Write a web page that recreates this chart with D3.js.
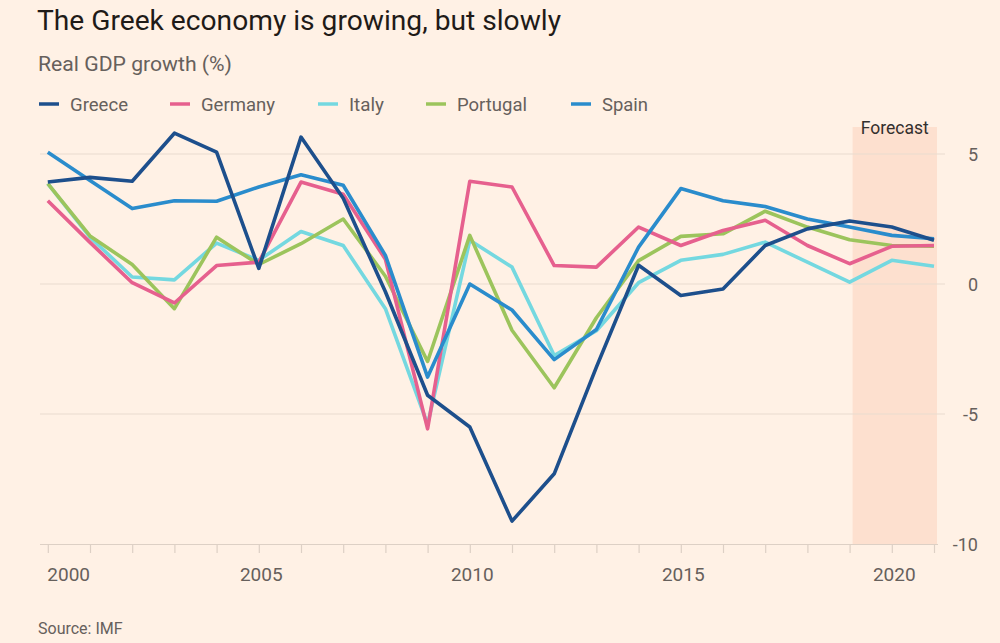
<!DOCTYPE html>
<html><head><meta charset="utf-8">
<script src="https://cdn.jsdelivr.net/npm/d3@7"></script>
<style>
html,body{margin:0;padding:0;background:#fff1e5;}
svg{display:block;font-family:Roboto, "Open Sans", sans-serif;}
</style></head><body>
<svg id="c" width="1000" height="643"></svg>
<script>
const years = d3.range(2000, 2022);
const greece   = [3.92,4.1,3.95,5.8,5.07,0.6,5.65,3.3,-0.3,-4.28,-5.5,-9.12,-7.3,-3.2,0.72,-0.44,-0.19,1.48,2.12,2.42,2.19,1.68];
const germany  = [3.2,1.6,0.05,-0.73,0.71,0.84,3.92,3.45,0.95,-5.57,3.95,3.73,0.71,0.65,2.19,1.48,2.06,2.45,1.48,0.78,1.45,1.48];
const italy    = [3.86,1.8,0.27,0.16,1.57,0.91,2.02,1.48,-0.95,-5.4,1.68,0.65,-2.75,-1.8,0.05,0.91,1.14,1.61,0.84,0.07,0.91,0.68];
const portugal = [3.86,1.85,0.75,-0.95,1.8,0.75,1.55,2.5,0.3,-2.98,1.87,-1.78,-3.99,-1.3,0.9,1.83,1.93,2.8,2.19,1.7,1.48,1.45];
const spain    = [5.07,3.98,2.9,3.2,3.18,3.73,4.2,3.8,1.1,-3.58,0.0,-1.0,-2.91,-1.75,1.42,3.67,3.2,2.98,2.5,2.19,1.87,1.74];
const seriesNames = ["Greece","Germany","Italy","Portugal","Spain"];
const seriesColors = ["#1d4f8c","#e6608e","#74d8e0","#9cc45c","#2a8ccc"];
const yTicks = [5,0,-5,-10];
const xLabelYears = [2000,2005,2010,2015,2020];
const forecastStart = 2019, forecastEnd = 2021;

const svg = d3.select("#c");
const allSeries = [greece, germany, italy, portugal, spain];

const x = d3.scaleLinear().domain([2000, 2021]).range([47.8, 934]);
const y = d3.scaleLinear().domain([-10, 5]).range([544, 154]);

svg.append("text").attr("x",37).attr("y",30).attr("font-size",28).attr("fill","#1f1b18")
  .attr("textLength",524).attr("lengthAdjust","spacingAndGlyphs")
  .text("The Greek economy is growing, but slowly");
svg.append("text").attr("x",38).attr("y",71).attr("font-size",19.5).attr("fill","#66605c")
  .attr("textLength",194).attr("lengthAdjust","spacingAndGlyphs")
  .text("Real GDP growth (%)");

// legend
const legX = [39,170,318,426,571];
const legW = [58,74,35,70,46];
seriesNames.forEach((n,i)=>{
  const g = svg.append("g").attr("transform",`translate(${legX[i]},104)`);
  g.append("line").attr("x1",0).attr("x2",20).attr("y1",0).attr("y2",0)
    .attr("stroke",seriesColors[i]).attr("stroke-width",3.5);
  g.append("text").attr("x",31).attr("y",6.5).attr("font-size",18.5).attr("fill","#66605c")
    .attr("textLength",legW[i]).attr("lengthAdjust","spacingAndGlyphs").text(n);
});

// forecast band
svg.append("rect").attr("x",x(forecastStart)+3).attr("y",127)
  .attr("width",x(forecastEnd)-x(forecastStart)).attr("height",y(-10)-127)
  .attr("fill","#fde0cf");
svg.append("text").attr("x",(x(forecastStart)+3+x(forecastEnd)+3)/2).attr("y",134)
  .attr("text-anchor","middle").attr("font-size",17.5).attr("fill","#33302e").text("Forecast");

// gridlines
yTicks.forEach(t=>{
  if (t===-10) return;
  svg.append("line").attr("x1",40).attr("x2",945).attr("y1",y(t)).attr("y2",y(t))
    .attr("stroke","#eadccf").attr("stroke-width",1.2);
});
yTicks.forEach(t=>{
  svg.append("text").attr("x",978).attr("y",y(t)+6.5).attr("text-anchor","end")
    .attr("font-size",18).attr("fill","#66605c").text(t);
});

// x axis
const xAxis = d3.axisBottom(x).tickValues(years).tickSize(9)
  .tickFormat(d => xLabelYears.includes(d) ? d : "");
const ax = svg.append("g").attr("transform",`translate(0,${y(-10)})`).call(xAxis);
ax.select(".domain").attr("d",`M40,0.5H938`).attr("stroke","#ddd0c5").attr("stroke-width",1.2);
ax.selectAll(".tick line").attr("stroke","#ddd0c5").attr("stroke-width",1.2);
ax.selectAll(".tick text").attr("font-size",19).attr("fill","#66605c")
  .attr("font-family","Roboto, sans-serif").attr("dy","1.3em")
  .attr("text-anchor", d => d===2000 ? "start" : "middle")
  .attr("dx", d => d===2000 ? "-1" : "2");

const line = d3.line().x((d,i)=>x(years[i])).y(d=>y(d));
const order = [2,3,1,4,0];
order.forEach(i=>{
  svg.append("path").datum(allSeries[i]).attr("d",line).attr("fill","none")
    .attr("stroke",seriesColors[i]).attr("stroke-width",3.6)
    .attr("stroke-linejoin","round").attr("stroke-linecap","butt");
});

svg.append("text").attr("x",38).attr("y",634).attr("font-size",16).attr("fill","#66605c")
  .text("Source: IMF");
</script>
</body></html>
